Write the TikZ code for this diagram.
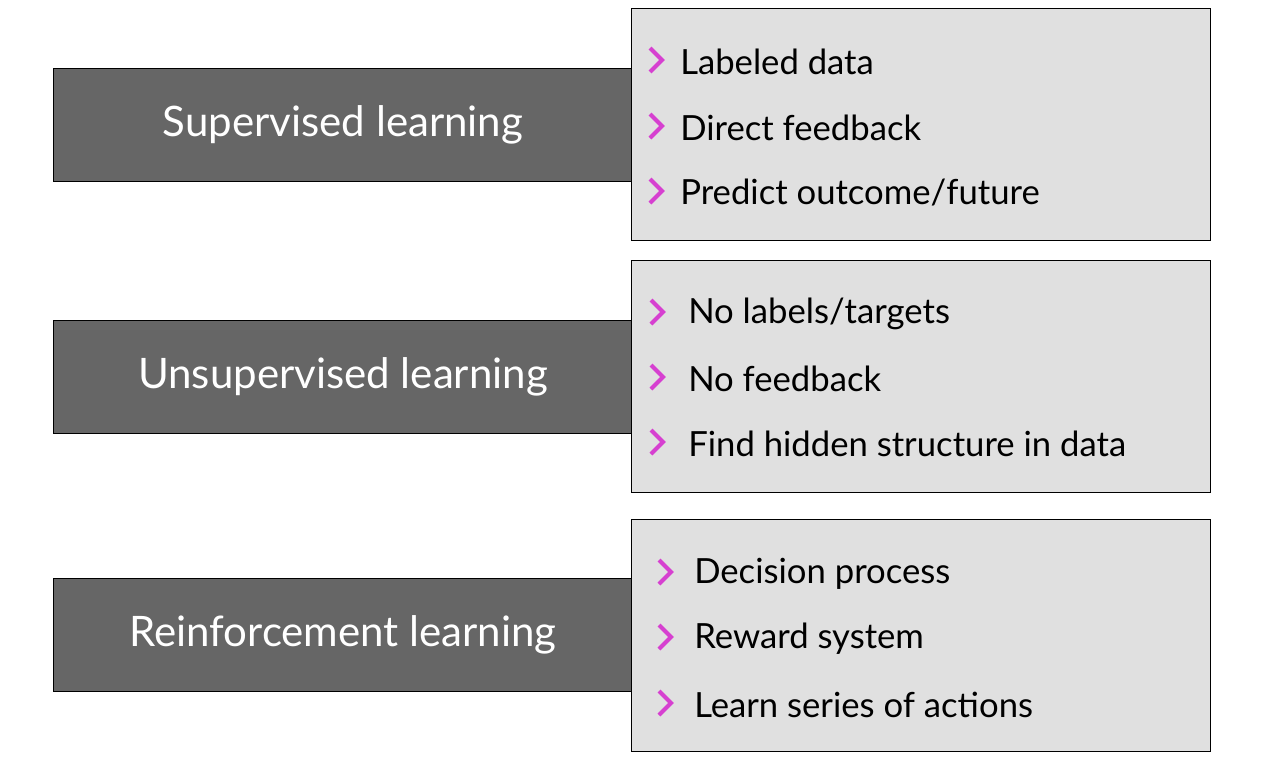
\documentclass[tikz,border=0pt]{standalone}
\usepackage{fontspec}
\setmainfont{Lato}
\definecolor{chevc}{RGB}{214,64,208}
\begin{document}
\begin{tikzpicture}[x=0.75pt,y=-0.75pt,
  darkbox/.style={draw=black,line width=0.8pt,fill=black!60,text=white,font=\fontsize{31.5}{36}\selectfont,inner sep=0},
  lightbox/.style={draw=black,line width=0.8pt,fill=black!12,inner sep=0},
  item/.style={anchor=west,font=\fontsize{26}{31}\selectfont,text=black,inner sep=0},
  chev/.style={draw=chevc,line width=3pt}]
\useasboundingbox (0,0) rectangle (1275,758);
\fill[white] (0,0) rectangle (1275,758);
\foreach \ya/\yb/\yc/\yd/\t/\n in {68/181/8/240/Supervised learning/a,320/433/260/492/Unsupervised learning/b,578/691/519/751/Reinforcement learning/c}{
  \node[darkbox,minimum width=579*0.75pt,minimum height=(\yb-\ya)*0.75pt,anchor=north west] (d\n) at (53,\ya) {\raisebox{-3pt}{\t}};
  \node[lightbox,minimum width=579*0.75pt,minimum height=(\yd-\yc)*0.75pt,anchor=north west] (l\n) at (631,\yc) {};
}
\foreach \cx/\tx/\y/\t/\n in {656/680/60/Labeled data/a1,656/680/126/Direct feedback/a2,656/680/191/Predict outcome\slash future/a3,
  657/688/312/No labels\slash targets/b1,657/688/377/No feedback/b2,657/688/442/Find hidden structure in data/b3,
  665/694/572/Decision process/c1,665/694/637/Reward system/c2,665/694/703/Learn series of actions/c3}{
  \draw[chev] (\cx-6,\y-12) -- (\cx+6,\y) -- (\cx-6,\y+12);
  \node[item] (t\n) at (\tx,\y+2) {\t};
}
\end{tikzpicture}
\end{document}
